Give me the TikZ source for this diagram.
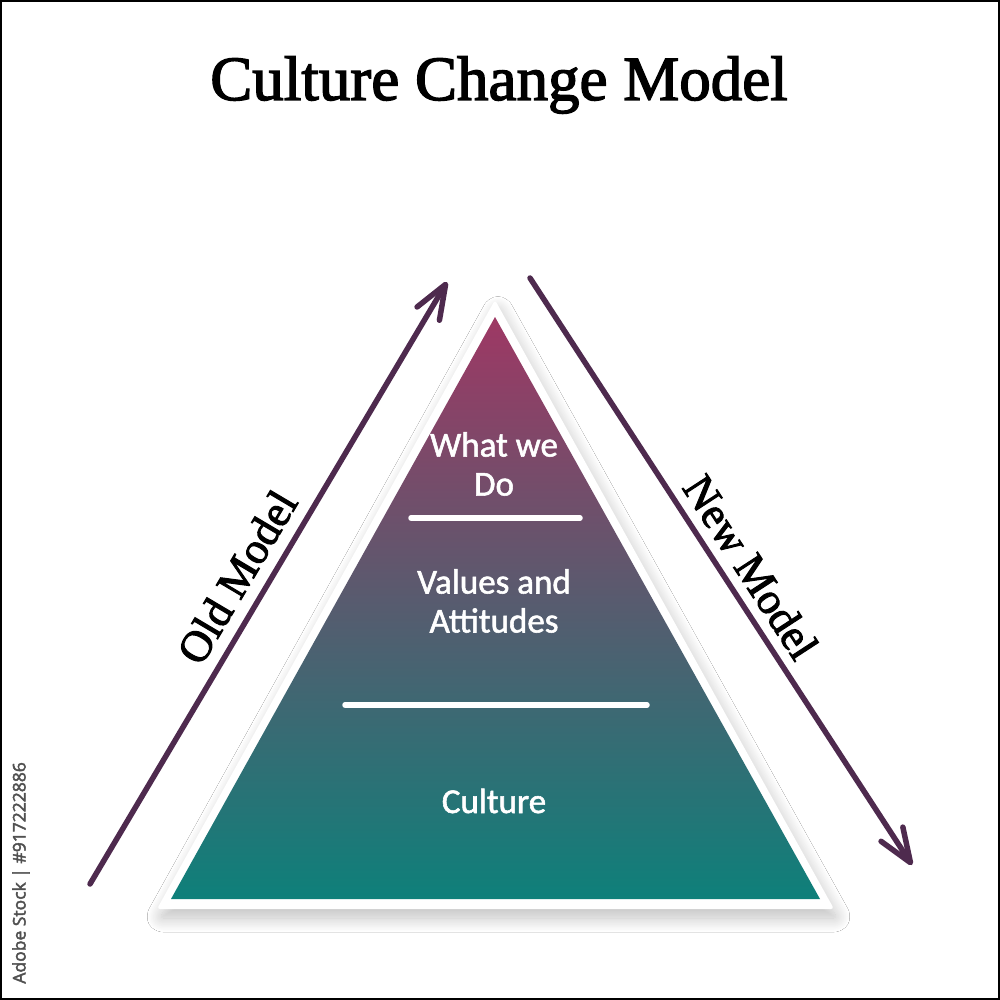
\documentclass[tikz,border=0pt]{standalone}
\usepackage{fontspec}
\setmainfont{Liberation Serif}
\newfontfamily\headfont[FakeBold=2.2]{Liberation Serif}
\newfontfamily\labfont[FakeBold=1.6]{Carlito}
\newfontfamily\wmfont[FakeBold=2.5]{Open Sans}
\usetikzlibrary{arrows.meta,shadows.blur}
\definecolor{arrowcol}{RGB}{78,42,78}
\definecolor{topcol}{RGB}{158,56,100}
\definecolor{midcol}{RGB}{92,84,112}
\definecolor{botcol}{RGB}{14,128,122}
\definecolor{wmgray}{RGB}{80,80,80}
\tikzset{
  modelarrow/.style={draw=arrowcol, line width=5.5pt, line cap=round,
    -{Straight Barb[length=34pt, width=26pt, line width=5.5pt, round]}},
  divider/.style={draw=white, line width=5.5pt, line cap=round},
  levellabel/.style={font=\labfont\fontsize{35}{39}\selectfont, text=white, align=center, inner sep=0pt},
  modellabel/.style={font=\headfont\fontsize{44}{50}\selectfont, inner sep=0pt},
}
\begin{document}
\begin{tikzpicture}[x=1pt,y=-1pt]
\useasboundingbox (0,0) rectangle (1000,1000);
\fill[white] (0,0) rectangle (1000,1000);
\draw[black, line width=2pt] (1,1) rectangle (999,999);

% title
\node[font=\headfont\fontsize{63}{69}\selectfont, anchor=base, inner sep=0pt] (title) at (499,100) {Culture Change Model};

% pyramid
\coordinate (oA) at (495,300);
\coordinate (oL) at (157,909);
\coordinate (oR) at (834,909);
\coordinate (iA) at (495,317);
\coordinate (iL) at (171,899);
\coordinate (iR) at (820,899);
\fill[white, rounded corners=3pt, blur shadow={shadow xshift=3pt, shadow yshift=-9pt, shadow blur radius=14pt, shadow blur steps=20, shadow opacity=25}] (oA) -- (oR) -- (oL) -- cycle;
\shade[top color=topcol, middle color=midcol, bottom color=botcol] (iA) -- (iR) -- (iL) -- cycle;

% dividers
\coordinate (d1a) at (411,518);
\coordinate (d1b) at (580,518);
\coordinate (d2a) at (345,705);
\coordinate (d2b) at (647,705);
\draw[divider] (d1a) -- (d1b);
\draw[divider] (d2a) -- (d2b);

% level labels
\node[levellabel] (what) at (494,464) {What we\\Do};
\node[levellabel] (values) at (494,601) {Values and\\Attitudes};
\node[levellabel] (culture) at (494,801) {Culture};

% arrows
\coordinate (oldS) at (90,884);
\coordinate (oldE) at (447,282);
\coordinate (newS) at (530,278);
\coordinate (newE) at (912,865);
\draw[modelarrow] (oldS) -- (oldE);
\draw[modelarrow] (newS) -- (newE);

\node[modellabel, rotate=59.33] (oldlab) at (237,577) {Old Model};
\node[modellabel, rotate=-56.94] (newlab) at (751,567) {New Model};

% side text
\node[font=\wmfont\fontsize{17.5}{19}\selectfont, text=wmgray, rotate=90, anchor=east, inner sep=0pt] (side) at (21,762) {Adobe Stock | \#917222886};
\end{tikzpicture}
\end{document}
